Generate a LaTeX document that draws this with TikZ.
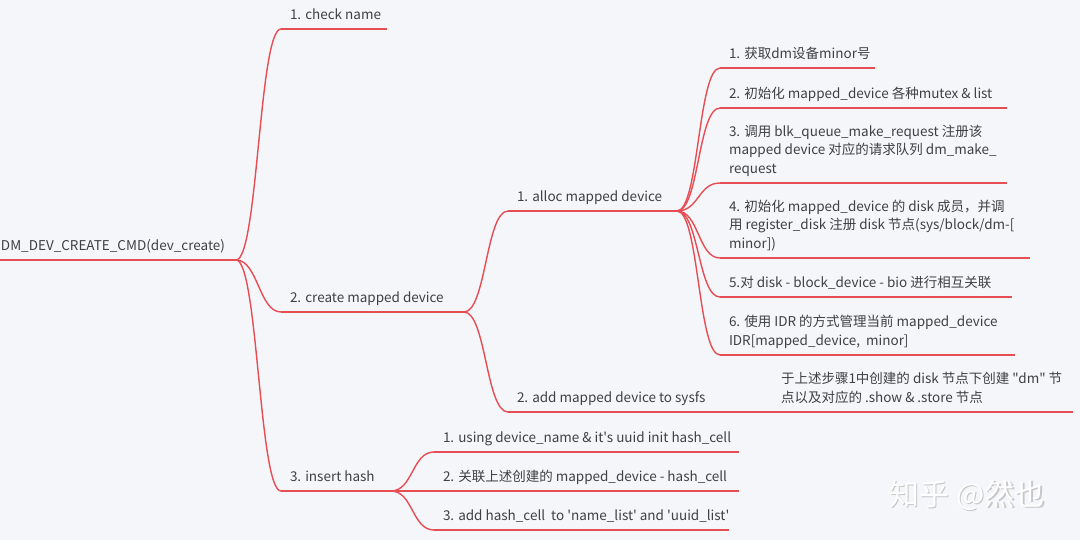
\documentclass[tikz,border=0pt]{standalone}
\usepackage{fontspec}
\usepackage{tikz}
\newfontfamily\mmfont{Noto Sans CJK SC}
\definecolor{linered}{RGB}{230,78,84}
\definecolor{txtgray}{RGB}{64,64,68}
\definecolor{bggray}{RGB}{245,246,250}

\begin{document}
\begin{tikzpicture}[x=1pt,y=-1pt,line width=1.4pt,
  topic/.style={font=\mmfont\fontsize{13.5}{18.5}\selectfont,text=txtgray,
    anchor=south west,align=left,inner xsep=9pt,inner ysep=4pt,outer sep=0pt,
    execute at end node=\strut},
  branch/.style={draw=linered,to path={.. controls ([xshift=22pt]\tikztostart) and ([xshift=-22pt]\tikztotarget) .. (\tikztotarget)}},
  uline/.style={draw=linered}]
\useasboundingbox (0,0) rectangle (1080,540);
\fill[bggray] (0,0) rectangle (1080,540);

% root
\node[topic,inner xsep=1pt] (root) at (0,260) {DM\_DEV\_CREATE\_CMD(dev\_create)};
\coordinate (root-e) at (236,260);

% first level
\node[topic] (chk) at (281,29) {1. check name};
\node[topic] (cmd) at (281,312) {2. create mapped device};
\node[topic] (hash) at (281,491) {3. insert hash};
\coordinate (chk-e) at (387,29);
\coordinate (cmd-e) at (464,312);
\coordinate (hash-e) at (391,491);

% create mapped device
\node[topic] (alloc) at (508,211) {1. alloc mapped device};
\node[topic] (sysfs) at (508,412) {2. add mapped device to sysfs};
\coordinate (alloc-e) at (677,211);
\coordinate (sysfs-e) at (724,412);

% alloc mapped device
\node[topic] (minor) at (720,68) {1. 获取dm设备minor号};
\node[topic] (mutex) at (720,108) {2. 初始化 mapped\_device 各种mutex \& list};
\node[topic] (queue) at (720,183) {3. 调用 blk\_queue\_make\_request 注册该\\mapped device 对应的请求队列 dm\_make\_\\request};
\node[topic] (disk) at (720,258) {4. 初始化 mapped\_device 的 disk 成员，并调\\用 register\_disk 注册 disk 节点(sys/block/dm-[\\minor])};
\node[topic] (bio) at (720,297) {5.对 disk - block\_device - bio 进行相互关联};
\node[topic] (idr) at (720,355) {6. 使用 IDR 的方式管理当前 mapped\_device\\IDR[mapped\_device,\ \ minor]};
\coordinate (minor-e) at (875,68);
\coordinate (mutex-e) at (1007,108);
\coordinate (queue-e) at (1007,183);
\coordinate (disk-e) at (1030,258);
\coordinate (bio-e) at (1012,297);
\coordinate (idr-e) at (1015,355);

% add to sysfs
\node[topic] (attr) at (772,412) {于上述步骤1中创建的 disk 节点下创建 "dm" 节\\点以及对应的 .show \& .store 节点};
\coordinate (attr-e) at (1073,412);

% insert hash
\node[topic] (init) at (434,452) {1. using device\_name \& it's uuid init hash\_cell};
\node[topic] (link) at (434,491) {2. 关联上述创建的 mapped\_device - hash\_cell};
\node[topic] (list) at (434,530) {3. add hash\_cell\ \ to 'name\_list' and 'uuid\_list'};
\coordinate (init-e) at (739,452);
\coordinate (link-e) at (739,491);
\coordinate (list-e) at (729,530);

% underlines
\foreach \n in {root,chk,cmd,hash,alloc,sysfs,minor,mutex,queue,disk,bio,idr,attr,init,link,list}
  \draw[uline] (\n.south west) -- (\n-e);

% connectors
\foreach \n in {chk,cmd,hash} \draw[branch] (root-e) to (\n.south west);
\foreach \n in {alloc,sysfs} \draw[branch] (cmd-e) to (\n.south west);
\foreach \n in {minor,mutex,queue,disk,bio,idr} \draw[branch] (alloc-e) to (\n.south west);
\draw[branch] (sysfs-e) to (attr.south west);
\foreach \n in {init,link,list} \draw[branch] (hash-e) to (\n.south west);

% watermark
\node[font=\mmfont\fontsize{30}{30}\selectfont,text=black!22] (wm-sh) at (968.5,496.5) {知乎 @然也};
\node[font=\mmfont\fontsize{30}{30}\selectfont,text=white] (wm) at (967,495) {知乎 @然也};

\end{tikzpicture}
\end{document}
